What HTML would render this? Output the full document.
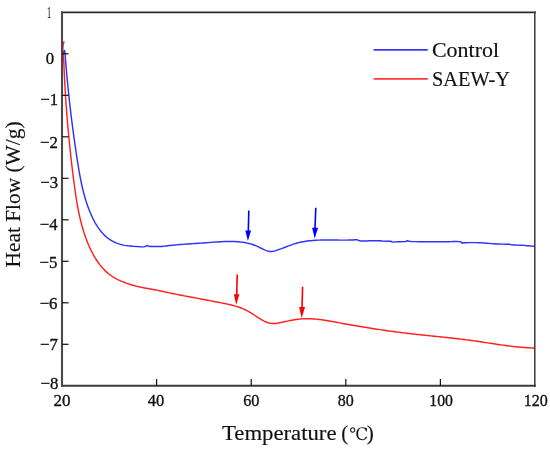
<!DOCTYPE html>
<html><head><meta charset="utf-8"><style>
html,body{margin:0;padding:0;background:#fff;width:550px;height:449px;overflow:hidden}
svg{display:block}
text{font-family:"Liberation Serif","Noto Serif CJK SC",serif;fill:#111;stroke:#111;stroke-width:0.35px}
.tk{font-size:16.8px}
.tkx{font-size:17px}
.tt{font-size:21px;stroke-width:0.15px}
.lg{font-size:21px;stroke-width:0.15px}
</style></head><body>
<svg width="550" height="449" viewBox="0 0 550 449">
<path d="M62.30 64.00 L62.38 62.99 L62.48 61.55 L62.61 59.85 L62.75 58.04 L62.89 56.27 L63.05 54.71 L63.20 53.50 L63.86 51.24 L64.40 50.30 L64.88 51.73 L65.00 53.25 L65.12 54.78 L65.23 56.30 L65.35 57.82 L65.47 59.33 L65.60 60.85 L65.72 62.37 L65.85 63.88 L65.97 65.40 L66.10 66.91 L66.23 68.43 L66.36 69.94 L66.50 71.45 L66.63 72.96 L66.77 74.47 L66.91 75.98 L67.05 77.49 L67.19 79.00 L67.33 80.51 L67.48 82.02 L67.63 83.53 L67.77 85.03 L67.92 86.54 L68.08 88.04 L68.23 89.55 L68.38 91.05 L68.54 92.56 L68.70 94.06 L68.86 95.56 L69.02 97.07 L69.18 98.57 L69.35 100.07 L69.51 101.57 L69.68 103.07 L69.85 104.58 L70.02 106.08 L70.20 107.58 L70.37 109.08 L70.55 110.58 L70.72 112.08 L70.90 113.58 L71.09 115.07 L71.27 116.57 L71.45 118.07 L71.64 119.57 L71.83 121.07 L72.02 122.57 L72.21 124.07 L72.40 125.57 L72.60 127.06 L72.79 128.56 L72.99 130.06 L73.19 131.56 L73.39 133.06 L73.60 134.55 L73.80 136.05 L74.01 137.55 L74.22 139.05 L74.43 140.55 L74.64 142.05 L74.85 143.55 L75.07 145.05 L75.28 146.55 L75.50 148.04 L75.72 149.54 L75.94 151.04 L76.17 152.54 L76.39 154.04 L76.62 155.55 L76.85 157.05 L77.08 158.55 L77.31 160.05 L77.55 161.55 L77.78 163.05 L78.02 164.56 L78.26 166.06 L78.51 167.56 L78.76 169.06 L79.01 170.56 L79.27 172.06 L79.54 173.56 L79.81 175.06 L80.09 176.55 L80.37 178.05 L80.66 179.54 L80.96 181.03 L81.27 182.52 L81.58 184.00 L81.91 185.49 L82.24 186.97 L82.58 188.45 L82.94 189.92 L83.30 191.39 L83.68 192.86 L84.07 194.33 L84.47 195.79 L84.88 197.25 L85.31 198.70 L85.75 200.15 L86.20 201.60 L86.67 203.04 L87.16 204.47 L87.65 205.90 L88.17 207.33 L88.70 208.75 L89.25 210.16 L89.82 211.57 L90.40 212.98 L91.00 214.37 L91.62 215.76 L92.26 217.15 L92.92 218.52 L93.60 219.89 L94.31 221.24 L95.03 222.57 L95.79 223.89 L96.57 225.19 L97.37 226.46 L98.20 227.71 L99.07 228.94 L99.96 230.14 L100.89 231.30 L101.84 232.44 L102.83 233.54 L103.86 234.61 L104.92 235.63 L106.02 236.62 L107.15 237.56 L108.33 238.46 L109.54 239.32 L110.79 240.12 L112.08 240.88 L113.40 241.59 L114.76 242.25 L116.15 242.86 L117.56 243.42 L119.01 243.92 L120.48 244.38 L121.98 244.78 L123.50 245.12 L125.05 245.41 L126.62 245.65 L128.20 245.83 L129.81 245.94 L131.43 246.01 L132.70 246.30 L134.17 246.38 L136.25 246.49 L138.20 246.60 L140.49 246.81 L142.50 246.90 L144.31 246.67 L145.80 246.30 L146.76 245.81 L147.50 245.50 L148.07 245.84 L149.10 246.30 L150.61 246.42 L152.55 246.48 L154.50 246.50 L156.53 246.49 L158.57 246.44 L160.00 246.40 L161.51 246.53 L163.02 246.32 L164.53 246.13 L166.05 245.94 L167.56 245.76 L169.06 245.59 L170.57 245.43 L172.08 245.28 L173.59 245.13 L175.09 244.98 L176.60 244.85 L178.10 244.71 L179.61 244.59 L181.11 244.47 L182.61 244.35 L184.12 244.23 L185.62 244.12 L187.12 244.01 L188.63 243.91 L190.13 243.81 L191.64 243.70 L193.14 243.60 L194.65 243.51 L196.16 243.41 L197.66 243.31 L199.17 243.21 L200.68 243.11 L202.19 243.01 L203.71 242.91 L205.22 242.81 L206.73 242.71 L208.25 242.60 L209.77 242.49 L211.29 242.38 L212.81 242.27 L214.33 242.15 L215.85 242.04 L217.37 241.94 L218.90 241.84 L220.42 241.75 L221.94 241.66 L223.46 241.59 L224.98 241.53 L226.50 241.48 L228.02 241.45 L229.53 241.43 L231.04 241.43 L232.55 241.45 L234.06 241.50 L235.56 241.57 L237.06 241.66 L238.55 241.78 L240.04 241.92 L241.53 242.10 L243.01 242.31 L244.49 242.55 L245.96 242.82 L247.42 243.13 L248.88 243.48 L250.33 243.87 L251.78 244.29 L253.22 244.76 L254.65 245.28 L256.07 245.84 L257.49 246.44 L258.89 247.10 L260.29 247.79 L261.69 248.50 L263.08 249.19 L264.47 249.83 L265.86 250.41 L267.26 250.90 L268.66 251.26 L270.06 251.47 L271.48 251.51 L272.91 251.37 L274.34 251.07 L275.78 250.66 L277.22 250.18 L278.65 249.67 L280.08 249.15 L281.50 248.61 L282.92 248.06 L284.34 247.52 L285.76 246.97 L287.18 246.42 L288.59 245.88 L290.02 245.36 L291.44 244.85 L292.87 244.36 L294.30 243.89 L295.74 243.45 L297.19 243.04 L298.64 242.66 L300.10 242.32 L301.57 242.00 L303.04 241.72 L304.52 241.46 L306.01 241.23 L307.50 241.02 L308.99 240.84 L310.49 240.67 L312.00 240.53 L313.51 240.41 L315.02 240.31 L316.53 240.22 L318.05 240.15 L319.57 240.10 L321.10 240.06 L322.62 240.03 L324.15 240.01 L325.68 240.00 L327.21 239.99 L328.74 240.00 L330.27 240.01 L331.80 240.02 L333.33 240.04 L334.85 240.06 L336.38 240.07 L337.91 240.09 L339.43 240.11 L340.95 240.12 L342.47 240.12 L343.99 240.12 L345.50 240.11 L347.01 240.10 L348.52 240.07 L350.02 240.03 L351.52 239.98 L353.01 239.91 L354.50 239.83 L355.98 239.73 L357.50 239.80 L358.41 240.40 L360.20 241.00 L361.81 241.09 L363.85 241.09 L365.84 241.04 L367.30 241.00 L367.54 240.90 L368.40 240.80 L369.45 240.79 L370.87 240.78 L372.54 240.77 L374.34 240.77 L376.15 240.77 L377.84 240.77 L379.30 240.78 L380.40 240.80 L381.69 240.94 L382.50 241.10 L383.85 241.14 L385.65 241.16 L387.60 241.18 L389.38 241.22 L390.70 241.30 L391.86 241.72 L392.40 242.10 L393.83 242.06 L395.60 241.90 L397.62 241.80 L400.00 241.70 L401.50 241.67 L403.21 241.64 L404.81 241.60 L406.00 241.50 L406.82 241.01 L407.10 240.60 L407.62 240.76 L408.70 241.10 L409.76 241.28 L411.26 241.46 L414.20 241.60 L415.29 241.62 L416.56 241.64 L417.96 241.66 L419.48 241.67 L421.09 241.68 L422.77 241.68 L424.48 241.69 L426.21 241.69 L427.92 241.69 L429.59 241.69 L431.19 241.70 L432.70 241.70 L434.48 241.71 L436.30 241.71 L438.14 241.72 L439.96 241.72 L441.75 241.72 L443.47 241.73 L445.09 241.73 L446.59 241.72 L447.94 241.71 L449.10 241.70 L451.54 241.60 L452.71 241.47 L454.00 241.40 L455.54 241.43 L457.24 241.51 L458.83 241.61 L460.00 241.70 L460.80 241.79 L461.00 242.00 L461.52 242.65 L462.20 243.20 L462.43 243.03 L464.40 242.70 L465.43 242.68 L466.73 242.66 L468.24 242.64 L469.90 242.64 L471.66 242.63 L473.44 242.63 L475.18 242.64 L476.83 242.65 L478.33 242.67 L479.60 242.70 L481.57 242.78 L483.07 242.89 L484.35 243.02 L485.68 243.16 L487.30 243.30 L488.69 243.40 L490.17 243.50 L491.73 243.61 L493.33 243.72 L494.96 243.83 L496.59 243.92 L498.20 244.00 L499.87 244.06 L501.67 244.11 L503.50 244.14 L505.28 244.17 L506.93 244.20 L508.37 244.24 L509.50 244.30 L510.62 244.59 L511.60 244.90 L512.81 244.97 L514.32 245.03 L516.06 245.08 L517.94 245.13 L519.88 245.20 L521.80 245.30 L523.33 245.40 L525.04 245.53 L526.83 245.68 L528.64 245.83 L530.36 245.97 L531.92 246.11 L533.23 246.22 L534.20 246.30" fill="none" stroke="#3030ff" stroke-width="1.45" stroke-linejoin="round" stroke-linecap="round"/>
<path d="M63.90 42.00 L63.46 43.66 L63.00 46.00 L62.85 47.70 L62.78 49.56 L62.80 51.40 L62.95 53.17 L63.19 54.94 L63.40 56.70 L63.56 58.66 L63.70 60.63 L63.80 62.00 L63.88 63.48 L63.94 65.00 L64.00 66.51 L64.06 68.03 L64.13 69.54 L64.19 71.06 L64.26 72.57 L64.33 74.09 L64.40 75.60 L64.48 77.11 L64.55 78.62 L64.63 80.13 L64.71 81.64 L64.79 83.15 L64.87 84.66 L64.96 86.17 L65.04 87.68 L65.13 89.19 L65.22 90.70 L65.31 92.20 L65.40 93.71 L65.50 95.22 L65.60 96.72 L65.69 98.23 L65.79 99.73 L65.90 101.23 L66.00 102.74 L66.11 104.24 L66.21 105.74 L66.32 107.25 L66.43 108.75 L66.55 110.25 L66.66 111.75 L66.78 113.26 L66.89 114.76 L67.01 116.26 L67.14 117.76 L67.26 119.26 L67.38 120.76 L67.51 122.26 L67.64 123.76 L67.77 125.26 L67.90 126.76 L68.03 128.26 L68.17 129.76 L68.30 131.26 L68.44 132.75 L68.58 134.25 L68.73 135.75 L68.87 137.25 L69.01 138.75 L69.16 140.25 L69.31 141.75 L69.46 143.25 L69.61 144.74 L69.77 146.24 L69.92 147.74 L70.08 149.24 L70.24 150.74 L70.40 152.24 L70.56 153.74 L70.72 155.23 L70.89 156.73 L71.05 158.23 L71.22 159.73 L71.39 161.23 L71.57 162.73 L71.74 164.23 L71.91 165.73 L72.09 167.23 L72.27 168.73 L72.45 170.23 L72.63 171.73 L72.81 173.23 L73.00 174.74 L73.19 176.24 L73.37 177.74 L73.56 179.24 L73.76 180.75 L73.95 182.25 L74.14 183.75 L74.34 185.25 L74.54 186.76 L74.75 188.26 L74.95 189.76 L75.17 191.26 L75.38 192.77 L75.60 194.27 L75.83 195.77 L76.06 197.26 L76.29 198.76 L76.53 200.26 L76.78 201.75 L77.03 203.25 L77.29 204.74 L77.56 206.23 L77.84 207.72 L78.12 209.20 L78.41 210.69 L78.71 212.17 L79.02 213.65 L79.34 215.12 L79.67 216.60 L80.00 218.07 L80.35 219.54 L80.71 221.00 L81.08 222.46 L81.46 223.92 L81.85 225.38 L82.25 226.83 L82.67 228.28 L83.10 229.72 L83.54 231.16 L84.00 232.60 L84.46 234.03 L84.95 235.46 L85.44 236.88 L85.95 238.30 L86.48 239.71 L87.02 241.12 L87.58 242.52 L88.15 243.92 L88.74 245.32 L89.35 246.71 L89.97 248.09 L90.61 249.46 L91.27 250.82 L91.95 252.17 L92.65 253.51 L93.37 254.84 L94.11 256.15 L94.87 257.45 L95.66 258.73 L96.46 260.00 L97.29 261.24 L98.15 262.47 L99.03 263.67 L99.93 264.85 L100.86 266.01 L101.82 267.14 L102.80 268.25 L103.81 269.32 L104.85 270.38 L105.92 271.40 L107.01 272.39 L108.14 273.34 L109.30 274.27 L110.49 275.16 L111.71 276.02 L112.96 276.84 L114.24 277.62 L115.55 278.38 L116.88 279.10 L118.24 279.79 L119.62 280.44 L121.02 281.08 L122.43 281.68 L123.87 282.25 L125.31 282.80 L126.78 283.32 L128.25 283.82 L129.73 284.30 L131.22 284.75 L132.72 285.18 L134.21 285.60 L135.72 285.99 L137.22 286.36 L138.72 286.72 L140.22 287.06 L141.71 287.39 L143.20 287.70 L144.68 288.00 L146.14 288.28 L147.60 288.56 L149.04 288.82 L150.47 289.08 L151.88 289.33 L153.27 289.57 L154.80 289.80 L156.30 290.00 L157.77 290.34 L159.25 290.67 L160.72 291.00 L162.19 291.33 L163.67 291.65 L165.15 291.97 L166.62 292.28 L168.10 292.60 L169.58 292.91 L171.06 293.21 L172.53 293.52 L174.01 293.82 L175.50 294.12 L176.98 294.41 L178.46 294.71 L179.94 295.00 L181.42 295.29 L182.90 295.57 L184.39 295.86 L185.87 296.15 L187.36 296.43 L188.84 296.71 L190.32 296.99 L191.81 297.27 L193.29 297.55 L194.78 297.83 L196.26 298.11 L197.75 298.39 L199.23 298.66 L200.72 298.94 L202.21 299.22 L203.69 299.49 L205.18 299.77 L206.66 300.05 L208.15 300.33 L209.63 300.61 L211.12 300.89 L212.60 301.17 L214.09 301.45 L215.57 301.73 L217.06 302.02 L218.54 302.30 L220.03 302.59 L221.51 302.88 L222.99 303.18 L224.47 303.48 L225.95 303.79 L227.43 304.10 L228.90 304.44 L230.36 304.78 L231.82 305.14 L233.28 305.52 L234.73 305.92 L236.17 306.34 L237.60 306.79 L239.02 307.27 L240.44 307.77 L241.84 308.30 L243.23 308.87 L244.61 309.47 L245.98 310.11 L247.33 310.79 L248.67 311.51 L250.00 312.28 L251.31 313.08 L252.61 313.91 L253.90 314.76 L255.18 315.62 L256.46 316.48 L257.74 317.34 L259.01 318.17 L260.29 318.98 L261.57 319.75 L262.86 320.48 L264.16 321.15 L265.48 321.75 L266.80 322.28 L268.14 322.72 L269.50 323.07 L270.88 323.32 L272.28 323.45 L273.71 323.48 L275.15 323.42 L276.61 323.28 L278.09 323.07 L279.58 322.80 L281.08 322.50 L282.58 322.18 L284.09 321.83 L285.60 321.49 L287.11 321.16 L288.63 320.84 L290.14 320.54 L291.65 320.25 L293.16 319.99 L294.68 319.74 L296.19 319.52 L297.70 319.32 L299.21 319.15 L300.71 319.01 L302.22 318.89 L303.73 318.81 L305.23 318.76 L306.74 318.74 L308.24 318.75 L309.74 318.78 L311.24 318.83 L312.74 318.91 L314.24 319.02 L315.74 319.14 L317.24 319.28 L318.73 319.45 L320.23 319.62 L321.72 319.82 L323.22 320.03 L324.71 320.25 L326.21 320.48 L327.70 320.72 L329.19 320.98 L330.68 321.24 L332.18 321.50 L333.67 321.77 L335.16 322.05 L336.65 322.33 L338.14 322.60 L339.63 322.88 L341.12 323.16 L342.61 323.43 L344.10 323.70 L345.59 323.97 L347.08 324.24 L348.57 324.51 L350.06 324.77 L351.55 325.04 L353.04 325.30 L354.53 325.55 L356.02 325.81 L357.51 326.06 L359.00 326.32 L360.49 326.57 L361.98 326.82 L363.47 327.06 L364.96 327.31 L366.45 327.55 L367.94 327.79 L369.43 328.02 L370.93 328.26 L372.42 328.49 L373.91 328.72 L375.40 328.95 L376.89 329.18 L378.38 329.40 L379.87 329.63 L381.37 329.85 L382.86 330.06 L384.35 330.28 L385.84 330.49 L387.34 330.70 L388.83 330.91 L390.32 331.12 L391.82 331.32 L393.31 331.53 L394.80 331.73 L396.30 331.92 L397.79 332.12 L399.29 332.31 L400.79 332.50 L402.28 332.69 L403.78 332.88 L405.27 333.06 L406.77 333.24 L408.27 333.42 L409.77 333.60 L411.27 333.77 L412.77 333.94 L414.26 334.11 L415.76 334.28 L417.26 334.44 L418.77 334.61 L420.27 334.77 L421.77 334.93 L423.27 335.09 L424.77 335.25 L426.27 335.40 L427.77 335.56 L429.28 335.72 L430.78 335.87 L432.28 336.03 L433.78 336.18 L435.29 336.33 L436.79 336.49 L438.29 336.64 L439.79 336.80 L441.29 336.96 L442.80 337.11 L444.30 337.27 L445.80 337.43 L447.30 337.59 L448.80 337.75 L450.31 337.92 L451.81 338.08 L453.31 338.25 L454.81 338.42 L456.31 338.59 L457.81 338.76 L459.31 338.94 L460.81 339.12 L462.31 339.30 L463.80 339.48 L465.30 339.67 L466.80 339.86 L468.29 340.05 L469.79 340.25 L471.29 340.45 L472.78 340.66 L474.27 340.87 L475.77 341.08 L477.26 341.30 L478.75 341.52 L480.25 341.74 L481.74 341.97 L483.23 342.19 L484.72 342.42 L486.21 342.65 L487.70 342.88 L489.19 343.11 L490.68 343.34 L492.18 343.56 L493.67 343.79 L495.16 344.02 L496.65 344.24 L498.14 344.46 L499.63 344.68 L501.13 344.90 L502.62 345.11 L504.12 345.32 L505.61 345.52 L507.11 345.72 L508.60 345.91 L510.10 346.10 L511.60 346.28 L513.10 346.45 L514.60 346.62 L516.10 346.78 L517.61 346.93 L519.11 347.08 L520.62 347.22 L522.12 347.34 L523.63 347.46 L525.14 347.57 L526.65 347.67 L528.17 347.75 L529.68 347.83 L531.20 347.89 L532.72 347.95 L534.20 348.20" fill="none" stroke="#ff2020" stroke-width="1.45" stroke-linejoin="round" stroke-linecap="round"/>
<line x1="61.0" y1="12.4" x2="535.9" y2="12.4" stroke="#2c2c2c" stroke-width="1.6"/>
<line x1="61.0" y1="385.8" x2="535.9" y2="385.8" stroke="#3a3a3a" stroke-width="2.0"/>
<line x1="62.0" y1="11.6" x2="62.0" y2="386.8" stroke="#4a4a4a" stroke-width="2.1"/>
<line x1="534.8" y1="11.6" x2="534.8" y2="386.8" stroke="#3a3a3a" stroke-width="1.5"/>
<line x1="62.0" y1="53.8" x2="68.6" y2="53.8" stroke="#111" stroke-width="1.2"/>
<line x1="62.0" y1="95.3" x2="68.6" y2="95.3" stroke="#111" stroke-width="1.2"/>
<line x1="62.0" y1="136.8" x2="68.6" y2="136.8" stroke="#111" stroke-width="1.2"/>
<line x1="62.0" y1="178.3" x2="68.6" y2="178.3" stroke="#111" stroke-width="1.2"/>
<line x1="62.0" y1="219.8" x2="68.6" y2="219.8" stroke="#111" stroke-width="1.2"/>
<line x1="62.0" y1="261.3" x2="68.6" y2="261.3" stroke="#111" stroke-width="1.2"/>
<line x1="62.0" y1="302.8" x2="68.6" y2="302.8" stroke="#111" stroke-width="1.2"/>
<line x1="62.0" y1="344.3" x2="68.6" y2="344.3" stroke="#111" stroke-width="1.2"/>
<line x1="156.6" y1="385.8" x2="156.6" y2="379.0" stroke="#111" stroke-width="1.2"/>
<line x1="251.2" y1="385.8" x2="251.2" y2="379.0" stroke="#111" stroke-width="1.2"/>
<line x1="345.8" y1="385.8" x2="345.8" y2="379.0" stroke="#111" stroke-width="1.2"/>
<line x1="440.4" y1="385.8" x2="440.4" y2="379.0" stroke="#111" stroke-width="1.2"/>
<line x1="248.8" y1="210.4" x2="248.3" y2="231.6" stroke="#0000ff" stroke-width="1.6"/><polygon points="245.3,230.6 251.1,230.6 247.9,240.9" fill="#0000ff"/>
<line x1="315.8" y1="207.7" x2="315.0" y2="228.7" stroke="#0000ff" stroke-width="1.6"/><polygon points="312.1,227.7 318.1,227.7 314.7,238.4" fill="#0000ff"/>
<line x1="237.2" y1="274.4" x2="236.7" y2="295.3" stroke="#ff0000" stroke-width="1.6"/><polygon points="233.8,294.3 239.4,294.3 236.2,304.8" fill="#ff0000"/>
<line x1="302.6" y1="286.8" x2="302.0" y2="308.0" stroke="#ff0000" stroke-width="1.6"/><polygon points="299.1,307.0 305.1,307.0 301.6,318.0" fill="#ff0000"/>
<line x1="373.6" y1="49.9" x2="427.8" y2="49.9" stroke="#3a3aff" stroke-width="1.8"/>
<line x1="373.6" y1="78.9" x2="427.8" y2="78.9" stroke="#ff3a3a" stroke-width="1.8"/>
<text x="432.0" y="57.4" class="lg" textLength="67.0" lengthAdjust="spacingAndGlyphs">Control</text>
<text x="432.0" y="86.4" class="lg" textLength="78.0" lengthAdjust="spacingAndGlyphs">SAEW-Y</text>
<text transform="translate(49.0,17.5) scale(0.55,1.04)" x="0" y="0" class="tk" text-anchor="middle" style="fill:#222;stroke:none">1</text>
<text x="49.9" y="63.7" class="tk" text-anchor="middle">0</text>
<text x="49.3" y="105.3" class="tk" text-anchor="middle">−1</text>
<text x="48.9" y="148.0" class="tk" text-anchor="middle">−2</text>
<text x="49.3" y="188.1" class="tk" text-anchor="middle">−3</text>
<text x="48.8" y="229.7" class="tk" text-anchor="middle">−4</text>
<text x="48.5" y="267.8" class="tk" text-anchor="middle">−5</text>
<text x="48.6" y="308.7" class="tk" text-anchor="middle">−6</text>
<text x="49.0" y="349.5" class="tk" text-anchor="middle">−7</text>
<text x="49.5" y="389.3" class="tk" text-anchor="middle">−8</text>
<text x="62.0" y="405.8" class="tkx" text-anchor="middle" textLength="17.0" lengthAdjust="spacingAndGlyphs">20</text>
<text x="155.9" y="405.8" class="tkx" text-anchor="middle" textLength="16.5" lengthAdjust="spacingAndGlyphs">40</text>
<text x="251.3" y="405.8" class="tkx" text-anchor="middle" textLength="16.2" lengthAdjust="spacingAndGlyphs">60</text>
<text x="345.7" y="405.8" class="tkx" text-anchor="middle" textLength="16.0" lengthAdjust="spacingAndGlyphs">80</text>
<text x="441.1" y="405.8" class="tkx" text-anchor="middle" textLength="23.6" lengthAdjust="spacingAndGlyphs">100</text>
<text x="535.8" y="405.8" class="tkx" text-anchor="middle" textLength="24.0" lengthAdjust="spacingAndGlyphs">120</text>
<text x="222.0" y="439.6" class="tt" textLength="114.5" lengthAdjust="spacingAndGlyphs">Temperature</text>
<text x="341.3" y="439.6" class="tt">(</text>
<text x="349.2" y="439.6" class="tt" style="font-size:17.0px;font-family:&quot;DejaVu Serif&quot;,serif;stroke-width:0">℃</text>
<text x="366.8" y="439.6" class="tt">)</text>
<text transform="translate(20.3,267.5) rotate(-90)" x="0" y="0" class="tt" textLength="146.0" lengthAdjust="spacingAndGlyphs">Heat Flow (W/g)</text>
</svg>
</body></html>
